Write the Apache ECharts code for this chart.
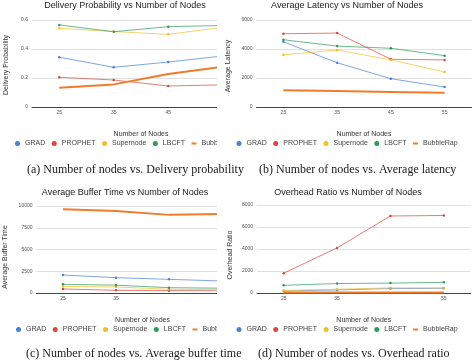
<!DOCTYPE html>
<html>
<head>
<meta charset="utf-8">
<script src="https://cdn.jsdelivr.net/npm/echarts@6/dist/echarts.min.js"></script>
<style>
html,body{margin:0;padding:0;background:#fff;width:474px;height:361px;overflow:hidden;position:relative}
.clip{position:absolute;overflow:hidden}
.inner{position:absolute;width:474px;height:361px}
</style>
</head>
<body>
<div id="cap" class="inner" style="left:0;top:0"></div>
<div class="clip" style="left:0;top:0;width:217px;height:160px"><div id="pa" class="inner" style="left:0;top:0"></div></div>
<div class="clip" style="left:220px;top:0;width:254px;height:160px"><div id="pb" class="inner" style="left:-220px;top:0"></div></div>
<div class="clip" style="left:0;top:175px;width:217px;height:165px"><div id="pc" class="inner" style="left:0;top:-175px"></div></div>
<div class="clip" style="left:220px;top:175px;width:254px;height:165px"><div id="pd" class="inner" style="left:-220px;top:-175px"></div></div>
<script>
// ---- data ----
const seriesNames = ['GRAD', 'PROPHET', 'Supernode', 'LBCFT', 'BubbleRap'];
const nodes = ['25', '35', '45', '55'];
const xTicksA = ['25', '35', '45', '55'];
const xTicksB = ['25', '35', '45', '55'];
const xTicksC = ['25', '35', '', ''];
const xTicksD = ['25', '35', '', '55'];

const gradDP = [0.343, 0.274, 0.31, 0.352];
const prophetDP = [0.205, 0.186, 0.145, 0.153];
const supernodeDP = [0.543, 0.52, 0.501, 0.55];
const lbcftDP = [0.566, 0.519, 0.554, 0.562];
const bubbleDP = [0.133, 0.156, 0.228, 0.277];

const gradLat = [4500, 3050, 1950, 1380];
const prophetLat = [5050, 5100, 3290, 3250];
const supernodeLat = [3600, 3930, 3250, 2410];
const lbcftLat = [4640, 4200, 4050, 3540];
const bubbleLat = [1150, 1100, 1040, 980];

const gradBuf = [2070, 1760, 1570, 1380];
const prophetBuf = [460, 310, 270, 260];
const supernodeBuf = [760, 690, 430, 380];
const lbcftBuf = [1000, 900, 610, 550];
const bubbleBuf = [9620, 9430, 8980, 9080];

const gradOH = [180, 280, 400, 430];
const prophetOH = [1800, 4100, 7000, 7050];
const supernodeOH = [230, 340, 470, 460];
const lbcftOH = [700, 860, 900, 970];
const bubbleOH = [50, 45, 40, 35];

const captions = [
  '(a) Number of nodes vs. Delivery probability',
  '(b) Number of nodes vs. Average latency',
  '(c) Number of nodes vs. Average buffer time',
  '(d) Number of nodes vs. Overhead ratio'
];

// ---- styling ----
const colors = ['#4a80d8', '#d9483b', '#f2bf2c', '#2e9b5b', '#f07c2a'];
const SANS = '"Liberation Sans", Arial, sans-serif';
const dashIcon = 'path://M0,0 M0,3 L10,3 L10,7 L0,7 Z M10,10';

function panel(id, c) {
  const chart = echarts.init(document.getElementById(id), null, {renderer: 'canvas'});
  const series = c.values.map((v, i) => ({
    name: seriesNames[i],
    type: 'line',
    data: v,
    showSymbol: i < 4,
    symbol: 'circle',
    symbolSize: 2.5,
    lineStyle: {width: i === 4 ? 2 : 1, color: colors[i], opacity: i === 4 ? 1 : 0.7},
    itemStyle: {color: colors[i]},
    emphasis: {disabled: true},
    silent: true
  }));
  chart.setOption({
    animation: false,
    textStyle: {fontFamily: SANS},
    grid: {left: c.gl, top: c.gt, width: c.gw, height: c.gh},
    xAxis: {
      type: 'category', data: nodes, boundaryGap: true,
      name: 'Number of Nodes', nameLocation: 'middle', nameGap: 24,
      nameTextStyle: {fontSize: 7, color: '#333', fontFamily: SANS},
      axisTick: {show: false},
      axisLine: {lineStyle: {color: '#444', width: 1}},
      axisLabel: {interval: 0, fontSize: 5, color: '#555', margin: 3, fontFamily: SANS,
        formatter: (v, i) => c.ticks[i]}
    },
    yAxis: {
      type: 'value', min: 0, max: c.max, interval: c.int,
      axisLabel: {fontSize: 5, color: '#555', margin: 4, fontFamily: SANS,
        formatter: v => String(v)},
      splitLine: {lineStyle: {color: '#e0e0e0', width: 1}},
      axisLine: {show: false}, axisTick: {show: false}
    },
    legend: {
      left: c.ll, top: c.lt, orient: 'horizontal', padding: 0,
      itemWidth: 5, itemHeight: 5, itemGap: 6.5, selectedMode: false,
      textStyle: {fontSize: 7, color: '#444', fontFamily: SANS},
      data: seriesNames.map((n, i) => ({name: n, icon: i === 4 ? dashIcon : 'circle',
        itemStyle: {color: colors[i], borderWidth: 0}}))
    },
    graphic: [
      {type: 'text', x: c.tx, y: c.ty, silent: true,
       style: {text: c.title, textAlign: 'center', textVerticalAlign: 'middle', align: 'center', verticalAlign: 'middle',
         font: '9px ' + SANS, fill: '#222'}},
      {type: 'text', x: c.yx, y: c.yy, rotation: Math.PI / 2, silent: true,
       style: {text: c.yname, textAlign: 'center', textVerticalAlign: 'middle', align: 'center', verticalAlign: 'middle',
         font: '7px ' + SANS, fill: '#333'}}
    ],
    series
  });
}

panel('pa', {
  gl: 32, gt: 20, gw: 218, gh: 87, max: 0.6, int: 0.2, ticks: xTicksA,
  title: 'Delivery Probability vs Number of Nodes', tx: 125, ty: 6,
  yname: 'Delivery Probability', yx: 6, yy: 65,
  ll: 15, lt: 140,
  values: [gradDP, prophetDP, supernodeDP, lbcftDP, bubbleDP]
});
panel('pb', {
  gl: 256.5, gt: 20, gw: 215, gh: 87, max: 6000, int: 2000, ticks: xTicksB,
  title: 'Average Latency vs Number of Nodes', tx: 347, ty: 6,
  yname: 'Average Latency', yx: 228.5, yy: 66,
  ll: 236.5, lt: 140,
  values: [gradLat, prophetLat, supernodeLat, lbcftLat, bubbleLat]
});
panel('pc', {
  gl: 36.5, gt: 206, gw: 212, gh: 87, max: 10000, int: 2500, ticks: xTicksC,
  title: 'Average Buffer Time vs Number of Nodes', tx: 125, ty: 193,
  yname: 'Average Buffer Time', yx: 5.5, yy: 257,
  ll: 16, lt: 326,
  values: [gradBuf, prophetBuf, supernodeBuf, lbcftBuf, bubbleBuf]
});
panel('pd', {
  gl: 257, gt: 205, gw: 213.5, gh: 88, max: 8000, int: 2000, ticks: xTicksD,
  title: 'Overhead Ratio vs Number of Nodes', tx: 348, ty: 193,
  yname: 'Overhead Ratio', yx: 230, yy: 255,
  ll: 236.5, lt: 326,
  values: [gradOH, prophetOH, supernodeOH, lbcftOH, bubbleOH]
});

// captions
const capChart = echarts.init(document.getElementById('cap'));
const capPos = [[27, 170], [259, 170], [26, 354], [258, 354]];
capChart.setOption({
  animation: false,
  graphic: captions.map((t, i) => ({
    type: 'text', x: capPos[i][0], y: capPos[i][1], silent: true,
    style: {text: t, textAlign: 'left', textVerticalAlign: 'middle', align: 'left', verticalAlign: 'middle',
      font: '12px "Liberation Serif", serif', fill: '#1a1a1a'}
  }))
});
</script>
</body>
</html>
